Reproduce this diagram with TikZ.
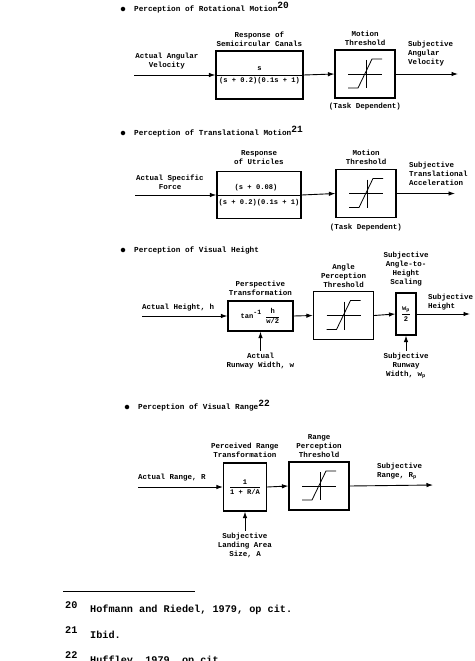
\documentclass[tikz,border=0pt]{standalone}
\usepackage{fontspec}
\setmainfont{Liberation Mono}
\usetikzlibrary{arrows.meta,positioning}
\tikzset{
    block/.style={draw, line width=1.2pt, inner sep=0pt},
    lbl/.style={align=center, inner sep=0pt, font=\fontsize{7.5}{9}\selectfont\bfseries},
    frac/.style={inner sep=0pt, font=\fontsize{7.1}{9}\selectfont\bfseries},
    note/.style={inner sep=0pt, font=\fontsize{10.2}{12}\selectfont\bfseries},
    sig/.style={-{Latex[length=6.5pt,width=4.5pt]}, line width=0.9pt},
}
\newcommand\FnMark[1]{\raisebox{3.2pt}{\fontsize{9.5}{9.5}\selectfont #1}}
\newcommand\Heading[4]{%
    \node[circle, fill, inner sep=1.6pt] (#1Dot) at (#2,#3) {};
    \node[lbl, anchor=base west, font=\fontsize{7.7}{9}\selectfont\bfseries] (#1) at ([xshift=11pt,yshift=-2.6pt]#1Dot.center) {#4};
}
\newcommand\Threshold[3]{%
    \node[block, minimum width=60pt, minimum height=48pt] (#1) at (#2,#3) {};
    \begin{scope}[shift={(#1.center)}, line width=0.8pt]
        \draw (-17,0) -- (17,0);
        \draw (1,-14) -- (1,14);
        \draw (-17,14) -- (-7,14) -- (7,-15) -- (17,-15);
    \end{scope}
}

\begin{document}
\begin{tikzpicture}[x=1pt,y=-1pt]
    \useasboundingbox (0,0) rectangle (474,661);
    % rotational motion
    \Heading{HeadRot}{123}{9}{Perception of Rotational Motion\FnMark{20}}
    \node[block, minimum width=87pt, minimum height=48pt] (RespCanal) at (259.5,75) {};
    \draw[line width=0.8pt] (RespCanal.west) -- (RespCanal.east);
    \node[frac] (RespCanalNum) at (259.5,69) {s};
    \node[frac] (RespCanalDen) at (259.5,80.5) {(s + 0.2)(0.1s + 1)};
    \Threshold{ThrRot}{365}{74}
    \coordinate (InRot) at (134,75);
    \coordinate (OutRot) at (458,74);
    \draw[sig] (InRot) -- (RespCanal.west);
    \draw[sig] (RespCanal.east) -- (ThrRot.west);
    \draw[sig] (ThrRot.east) -- (OutRot);
    \node[lbl] (LblInRot) at (167,61.5) {Actual Angular\\Velocity};
    \node[lbl, above=4pt of RespCanal] (LblCanal) {Response of\\Semicircular Canals};
    \node[lbl, above=4pt of ThrRot] (LblThrRot) {Motion\\Threshold};
    \node[lbl, below=4pt of ThrRot] (LblTaskRot) {(Task Dependent)};
    \node[lbl, anchor=west, align=left] (LblOutRot) at (408,54) {Subjective\\Angular\\Velocity};

    % translational motion
    \Heading{HeadTrans}{123}{133}{Perception of Translational Motion\FnMark{21}}
    \node[block, minimum width=84pt, minimum height=47pt] (RespUtr) at (259,195) {};
    \draw[line width=0.8pt] (RespUtr.west) -- (RespUtr.east);
    \node[frac] (RespUtrNum) at (256,188) {(s + 0.08)};
    \node[frac] (RespUtrDen) at (259,203) {(s + 0.2)(0.1s + 1)};
    \Threshold{ThrTrans}{366}{193.5}
    \coordinate (InTrans) at (135,195);
    \coordinate (OutTrans) at (455,193.5);
    \draw[sig] (InTrans) -- (RespUtr.west);
    \draw[sig] (RespUtr.east) -- (ThrTrans.west);
    \draw[sig] (ThrTrans.east) -- (OutTrans);
    \node[lbl] (LblInTrans) at (170,182.5) {Actual Specific\\Force};
    \node[lbl, above=6pt of RespUtr] (LblUtr) {Response\\of Utricles};
    \node[lbl, above=4pt of ThrTrans] (LblThrTrans) {Motion\\Threshold};
    \node[lbl, below=6pt of ThrTrans] (LblTaskTrans) {(Task Dependent)};
    \node[lbl, anchor=west, align=left] (LblOutTrans) at (409,174) {Subjective\\Translational\\Acceleration};

    % visual height
    \Heading{HeadHgt}{123}{250}{Perception of Visual Height}
    \node[block, frac, minimum width=65pt, minimum height=30pt] (Persp) at (260.5,316)
        {tan\raisebox{3.5pt}{\fontsize{6.5}{7}\selectfont -1}\hspace{4pt}$\displaystyle\frac{\mbox{h}}{\mbox{w/2}}$};
    \Threshold{ThrHgt}{343.5}{315.5}
    \node[block, frac, minimum width=20pt, minimum height=42pt] (Scale) at (406,314)
        {$\displaystyle\frac{\mbox{w\textsubscript{p}}}{\mbox{2}}$};
    \coordinate (InHgt) at (142,316);
    \coordinate (OutHgt) at (470,314);
    \coordinate (InWidth) at ([yshift=-19pt]Persp.south);
    \coordinate (InWidthP) at ([yshift=-15pt]Scale.south);
    \draw[sig] (InHgt) -- (Persp.west);
    \draw[sig] (Persp.east) -- (ThrHgt.west);
    \draw[sig] (ThrHgt.east) -- (Scale.west);
    \draw[sig] (Scale.east) -- (OutHgt);
    \draw[sig] (InWidth) -- (Persp.south);
    \draw[sig] (InWidthP) -- (Scale.south);
    \node[lbl, anchor=west] (LblInHgt) at (142,308) {Actual Height, h};
    \node[lbl, above=5pt of Persp] (LblPersp) {Perspective\\Transformation};
    \node[lbl, above=3pt of ThrHgt] (LblThrHgt) {Angle\\Perception\\Threshold};
    \node[lbl, above=6pt of Scale] (LblScale) {Subjective\\Angle-to-\\Height\\Scaling};
    \node[lbl, anchor=west, align=left] (LblOutHgt) at (428,302.5) {Subjective\\Height};
    \node[lbl, below=2pt of InWidth] (LblWidth) {Actual\\Runway Width, w};
    \node[lbl, below=2pt of InWidthP] (LblWidthP) {Subjective\\Runway\\Width, w\textsubscript{p}};

    % visual range
    \Heading{HeadRng}{127}{407}{Perception of Visual Range\FnMark{22}}
    \node[block, frac, minimum width=43pt, minimum height=48pt] (PercRng) at (245,487)
        {$\displaystyle\frac{\mbox{1}}{\mbox{1 + R/A}}$};
    \Threshold{ThrRng}{319}{486}
    \coordinate (InRng) at (138,487);
    \coordinate (OutRng) at (433,485);
    \coordinate (InArea) at ([yshift=-19pt]PercRng.south);
    \draw[sig] (InRng) -- (PercRng.west);
    \draw[sig] (PercRng.east) -- (ThrRng.west);
    \draw[sig] (ThrRng.east) -- (OutRng);
    \draw[sig] (InArea) -- (PercRng.south);
    \node[lbl, anchor=west] (LblInRng) at (138,478) {Actual Range, R};
    \node[lbl, above=5pt of PercRng] (LblPercRng) {Perceived Range\\Transformation};
    \node[lbl, above=4pt of ThrRng] (LblThrRng) {Range\\Perception\\Threshold};
    \node[lbl, anchor=west, align=left] (LblOutRng) at (377,471) {Subjective\\Range, R\textsubscript{p}};
    \node[lbl, below=2pt of InArea] (LblArea) {Subjective\\Landing Area\\Size, A};

    % footnotes
    \coordinate (RuleStart) at (63,591);
    \coordinate (RuleEnd) at (195,591);
    \draw[line width=0.9pt] (RuleStart) -- (RuleEnd);
    \node[note, anchor=west] (NoteNumA) at (65,605) {20};
    \node[note, anchor=west] (NoteA) at (90,610) {Hofmann and Riedel, 1979, op cit.};
    \node[note, anchor=west] (NoteNumB) at (65,630) {21};
    \node[note, anchor=west] (NoteB) at (90,635) {Ibid.};
    \node[note, anchor=west] (NoteNumC) at (65,655) {22};
    \node[note, anchor=west] (NoteC) at (90,661) {Huffley, 1979, op cit.};
\end{tikzpicture}
\end{document}
